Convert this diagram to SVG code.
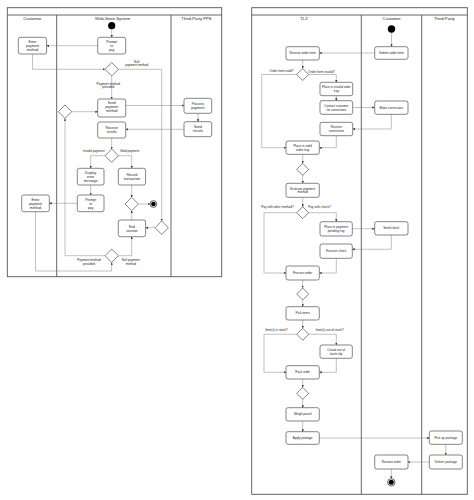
<svg xmlns="http://www.w3.org/2000/svg" width="474" height="500" viewBox="0 0 474 500">
<defs>
<marker id="a" viewBox="0 0 6 6" refX="6" refY="3" markerWidth="2.4" markerHeight="2.4" markerUnits="userSpaceOnUse" orient="auto"><path d="M0,0 L6,3 L0,6 Z" fill="#333"/></marker>
</defs>
<style>
.frame{fill:none;stroke:#555;stroke-width:0.9}
.lane{stroke:#555;stroke-width:0.9}
.n{fill:#fff;stroke:#333;stroke-width:0.6}
.d{fill:#fff;stroke:#333;stroke-width:0.6}
.c path{fill:none;stroke:#777;stroke-width:0.45;marker-end:url(#a)}
text{font-family:"Liberation Sans",Arial,sans-serif;fill:#222;text-anchor:middle}
.h{font-size:4.2px}
.t{font-size:3.4px}
.r{font-size:3.1px}
.l{font-size:3.1px}
</style>
<rect width="474" height="500" fill="#fff"/>

<!-- Left diagram frame -->
<g id="left-pool">
<rect class="frame" x="7.3" y="7.7" width="214.4" height="269"/>
<line class="lane" x1="7.3" y1="15" x2="221.7" y2="15"/>
<line class="lane" x1="56.7" y1="15" x2="56.7" y2="276.7"/>
<line class="lane" x1="171" y1="15" x2="171" y2="276.7"/>
<text class="h" x="32.3" y="19.8">Customer</text>
<text class="h" x="112.6" y="19.8">Web-Store System</text>
<text class="h" x="196.5" y="19.8">Third-Party PPS</text>
</g>

<!-- Right diagram frame -->
<g id="right-pool">
<rect class="frame" x="251.7" y="7.7" width="215.6" height="486.6"/>
<line class="lane" x1="251.7" y1="15" x2="467.3" y2="15"/>
<line class="lane" x1="361.3" y1="15" x2="361.3" y2="494.3"/>
<line class="lane" x1="421.7" y1="15" x2="421.7" y2="494.3"/>
<text class="h" x="304" y="19.8">TLZ</text>
<text class="h" x="391.7" y="19.8">Customer</text>
<text class="h" x="444.3" y="19.8">Third-Party</text>
</g>

<!-- Left connectors -->
<g id="left-connectors" class="c">
<path d="M111.7,29.3 V37.3"/>
<path d="M97.7,45.7 H46.6"/>
<path d="M32.5,54 V69.3 H105"/>
<path d="M111.7,76 V99"/>
<path d="M118.4,69.3 H161.7 V221"/>
<path d="M71.7,111.7 H97.7"/>
<path d="M125.7,105.5 H184"/>
<path d="M198,113.3 V121.7"/>
<path d="M184,129.3 H125.7"/>
<path d="M111.7,138 V149"/>
<path d="M105,155.7 H90.7 V168.3"/>
<path d="M118.4,155.7 H131.7 V168.3"/>
<path d="M90.7,185 V195"/>
<path d="M77.3,203.3 H49.3"/>
<path d="M35.5,211.7 V271 H111.7 V262.4"/>
<path d="M105,255.7 H65 V118.4"/>
<path d="M118.4,255.7 H131.7 V236.7"/>
<path d="M131.7,185 V197.3"/>
<path d="M131.7,220 V210.7"/>
<path d="M138.4,204 H150"/>
<path d="M155,227.7 H145.6"/>
</g>

<!-- Left connector labels -->
<g id="left-labels">
<text class="l" x="136.7" y="62.6">Null</text>
<text class="l" x="136.7" y="66.3">payment method</text>
<text class="l" x="108.3" y="84.7">Payment method</text>
<text class="l" x="108.3" y="88.4">provided</text>
<text class="l" x="104.5" y="152.2" style="text-anchor:end">Invalid payment</text>
<text class="l" x="120" y="152.2" style="text-anchor:start">Valid payment</text>
<text class="l" x="89" y="261">Payment method</text>
<text class="l" x="89" y="264.7">provided</text>
<text class="l" x="130.8" y="261">Null payment</text>
<text class="l" x="130.8" y="264.7">method</text>
</g>

<!-- Left nodes -->
<g id="L-start"><circle cx="111.7" cy="25.7" r="3.6" fill="#000"/></g>
<g id="L-prompt1"><rect class="n" x="97.7" y="37.3" width="28" height="16.7" rx="2"/><text class="t" x="111.7" y="42.85">Prompt<tspan x="111.7" dy="4">to</tspan><tspan x="111.7" dy="4">pay</tspan></text></g>
<g id="L-enter1"><rect class="n" x="18.3" y="37.3" width="28.3" height="16.7" rx="2"/><text class="t" x="32.5" y="42.85">Enter<tspan x="32.5" dy="4">payment</tspan><tspan x="32.5" dy="4">method</tspan></text></g>
<g id="L-d1"><path class="d" d="M111.7,62.6 L118.4,69.3 L111.7,76 L105,69.3 Z"/></g>
<g id="L-d2"><path class="d" d="M65,105 L71.7,111.7 L65,118.4 L58.3,111.7 Z"/></g>
<g id="L-send"><rect class="n" x="97.7" y="99" width="28" height="18" rx="2"/><text class="t" x="111.7" y="104.2">Send<tspan x="111.7" dy="4">payment</tspan><tspan x="111.7" dy="4">method</tspan></text></g>
<g id="L-receive"><rect class="n" x="97.7" y="122" width="28" height="16" rx="2"/><text class="t" x="111.7" y="129.2">Receive<tspan x="111.7" dy="4">results</tspan></text></g>
<g id="L-process"><rect class="n" x="184" y="98.3" width="27.7" height="15" rx="2"/><text class="t" x="197.85" y="105">Process<tspan x="197.85" dy="4">payment</tspan></text></g>
<g id="L-sendres"><rect class="n" x="184" y="121.7" width="27.7" height="15" rx="2"/><text class="t" x="197.85" y="128.4">Send<tspan x="197.85" dy="4">results</tspan></text></g>
<g id="L-d3"><path class="d" d="M111.7,149 L118.4,155.7 L111.7,162.4 L105,155.7 Z"/></g>
<g id="L-display"><rect class="n" x="77.3" y="168.3" width="26.7" height="16.7" rx="2"/><text class="t" x="90.65" y="173.85">Display<tspan x="90.65" dy="4">error</tspan><tspan x="90.65" dy="4">message</tspan></text></g>
<g id="L-record"><rect class="n" x="118.3" y="168.3" width="27.3" height="16.7" rx="2"/><text class="t" x="131.95" y="175.85">Record<tspan x="131.95" dy="4">transaction</tspan></text></g>
<g id="L-prompt2"><rect class="n" x="77.3" y="195" width="26.7" height="16.7" rx="2"/><text class="t" x="90.65" y="200.55">Prompt<tspan x="90.65" dy="4">to</tspan><tspan x="90.65" dy="4">pay</tspan></text></g>
<g id="L-enter2"><rect class="n" x="21.7" y="195" width="27.6" height="16.7" rx="2"/><text class="t" x="35.5" y="200.55">Enter<tspan x="35.5" dy="4">payment</tspan><tspan x="35.5" dy="4">method</tspan></text></g>
<g id="L-d5"><path class="d" d="M131.7,197.3 L138.4,204 L131.7,210.7 L125,204 Z"/></g>
<g id="L-final"><circle cx="153.4" cy="204" r="3.4" fill="#fff" stroke="#000" stroke-width="0.6"/><circle cx="153.4" cy="204" r="2.3" fill="#000"/></g>
<g id="L-end"><rect class="n" x="118.3" y="220" width="27.3" height="16.7" rx="2"/><text class="t" x="131.95" y="227.55">End<tspan x="131.95" dy="4">session</tspan></text></g>
<g id="L-d6"><path class="d" d="M161.7,221 L168.4,227.7 L161.7,234.4 L155,227.7 Z"/></g>
<g id="L-d4"><path class="d" d="M111.7,249 L118.4,255.7 L111.7,262.4 L105,255.7 Z"/></g>

<!-- Right connectors -->
<g id="right-connectors" class="c">
<path d="M391.5,32.7 V46.7"/>
<path d="M375,53 H319.3"/>
<path d="M302.7,60 V68.5"/>
<path d="M296.7,74.5 H261.7 V147.7 H286"/>
<path d="M308.7,74.5 H336.3 V82.3"/>
<path d="M336.3,95.7 V100.7"/>
<path d="M352.7,107.5 H374.7"/>
<path d="M391.3,114.3 V129 H352.7"/>
<path d="M336.3,135.7 V147.7 H319.3"/>
<path d="M302.7,154.3 V163.3"/>
<path d="M302.7,175.3 V183.3"/>
<path d="M302.7,197.3 V206.7"/>
<path d="M296.7,212.7 H264 V273 H286"/>
<path d="M308.7,212.7 H336.3 V221.7"/>
<path d="M352.3,228.7 H374.7"/>
<path d="M391.3,235 V249.3 H352.3"/>
<path d="M336.3,258.3 V273 H319.3"/>
<path d="M302.7,280 V288"/>
<path d="M302.7,300 V306.7"/>
<path d="M302.7,320 V328.3"/>
<path d="M296.7,334.3 H264 V372.3 H286"/>
<path d="M308.7,334.3 H336.3 V345"/>
<path d="M336.3,358.3 V372.3 H319.3"/>
<path d="M302.7,379 V387.3"/>
<path d="M302.7,399.3 V407.7"/>
<path d="M302.7,421 V431.7"/>
<path d="M319.3,438 H429.3"/>
<path d="M445.8,444.3 V455"/>
<path d="M429.3,462 H408"/>
<path d="M391.3,469 V478.6"/>
</g>

<!-- Right connector labels -->
<g id="right-labels">
<text class="l" x="281.5" y="72.2">Order form valid?</text>
<text class="l" x="321.5" y="73.4">Order form invalid?</text>
<text class="l" x="277.5" y="208.4">Pay with other method?</text>
<text class="l" x="319.5" y="208.4">Pay with check?</text>
<text class="l" x="276.5" y="331.1">Item(s) in stock?</text>
<text class="l" x="329.7" y="331.1">Item(s) out of stock?</text>
</g>

<!-- Right nodes -->
<g id="R-start"><circle cx="391.5" cy="29" r="3.7" fill="#000"/></g>
<g id="R-submit"><rect class="n" x="374.7" y="46.7" width="33.3" height="12.6" rx="2"/><text class="r" x="391.35" y="54.1">Submit order form</text></g>
<g id="R-receiveform"><rect class="n" x="286" y="46.7" width="33.3" height="13.3" rx="2"/><text class="r" x="302.65" y="54.45">Receive order form</text></g>
<g id="R-dA"><path class="d" d="M302.7,68.5 L308.7,74.5 L302.7,80.5 L296.7,74.5 Z"/></g>
<g id="R-invalid"><rect class="n" x="320" y="82.3" width="32.7" height="13.4" rx="2"/><text class="r" x="336.35" y="88.2">Place in invalid order<tspan x="336.35" dy="3.8">tray</tspan></text></g>
<g id="R-contact"><rect class="n" x="320" y="100.7" width="32.7" height="13.6" rx="2"/><text class="r" x="336.35" y="106.7">Contact customer<tspan x="336.35" dy="3.8">for corrections</tspan></text></g>
<g id="R-make"><rect class="n" x="374.7" y="101" width="33.3" height="13.3" rx="2"/><text class="r" x="391.35" y="108.75">Make corrections</text></g>
<g id="R-receivecorr"><rect class="n" x="320" y="122.3" width="32.7" height="13.4" rx="2"/><text class="r" x="336.35" y="128.2">Receive<tspan x="336.35" dy="3.8">corrections</tspan></text></g>
<g id="R-valid"><rect class="n" x="286" y="141" width="33.3" height="13.3" rx="2"/><text class="r" x="302.65" y="146.85">Place in valid<tspan x="302.65" dy="3.8">order tray</tspan></text></g>
<g id="R-dB"><path class="d" d="M302.7,163.3 L308.7,169.3 L302.7,175.3 L296.7,169.3 Z"/></g>
<g id="R-evaluate"><rect class="n" x="286" y="183.3" width="33.3" height="14" rx="2"/><text class="r" x="302.65" y="189.5">Evaluate payment<tspan x="302.65" dy="3.8">method</tspan></text></g>
<g id="R-dC"><path class="d" d="M302.7,206.7 L308.7,212.7 L302.7,218.7 L296.7,212.7 Z"/></g>
<g id="R-pending"><rect class="n" x="320" y="221.7" width="32.3" height="14.3" rx="2"/><text class="r" x="336.15" y="228.05">Place in payment<tspan x="336.15" dy="3.8">pending tray</tspan></text></g>
<g id="R-sendcheck"><rect class="n" x="374.7" y="221.7" width="33.3" height="13.3" rx="2"/><text class="r" x="391.35" y="229.45">Send check</text></g>
<g id="R-receivecheck"><rect class="n" x="320" y="244" width="32.3" height="14.3" rx="2"/><text class="r" x="336.15" y="252.25">Receive check</text></g>
<g id="R-process"><rect class="n" x="286" y="266" width="33.3" height="14" rx="2"/><text class="r" x="302.65" y="274.1">Process order</text></g>
<g id="R-dD"><path class="d" d="M302.7,288 L308.7,294 L302.7,300 L296.7,294 Z"/></g>
<g id="R-pick"><rect class="n" x="286" y="306.7" width="33.3" height="13.3" rx="2"/><text class="r" x="302.65" y="314.45">Pick items</text></g>
<g id="R-dE"><path class="d" d="M302.7,328.3 L308.7,334.3 L302.7,340.3 L296.7,334.3 Z"/></g>
<g id="R-slip"><rect class="n" x="320" y="345" width="32.3" height="13.3" rx="2"/><text class="r" x="336.15" y="350.85">Create out of<tspan x="336.15" dy="3.8">stock slip</tspan></text></g>
<g id="R-pack"><rect class="n" x="286" y="365.7" width="33.3" height="13.3" rx="2"/><text class="r" x="302.65" y="373.45">Pack order</text></g>
<g id="R-dF"><path class="d" d="M302.7,387.3 L308.7,393.3 L302.7,399.3 L296.7,393.3 Z"/></g>
<g id="R-weigh"><rect class="n" x="286" y="407.7" width="33.3" height="13.3" rx="2"/><text class="r" x="302.65" y="415.45">Weigh parcel</text></g>
<g id="R-apply"><rect class="n" x="286" y="431.7" width="33.3" height="12.6" rx="2"/><text class="r" x="302.65" y="439.1">Apply postage</text></g>
<g id="R-pickup"><rect class="n" x="429.3" y="431" width="33" height="13.3" rx="2"/><text class="r" x="445.8" y="438.75">Pick up package</text></g>
<g id="R-deliver"><rect class="n" x="429.3" y="455" width="33" height="14" rx="2"/><text class="r" x="445.8" y="463.1">Deliver package</text></g>
<g id="R-receiveorder"><rect class="n" x="374.7" y="455" width="33.3" height="14" rx="2"/><text class="r" x="391.35" y="463.1">Receive order</text></g>
<g id="R-final"><circle cx="391.3" cy="482.3" r="3.7" fill="#fff" stroke="#000" stroke-width="0.6"/><circle cx="391.3" cy="482.3" r="2.5" fill="#000"/></g>
</svg>
